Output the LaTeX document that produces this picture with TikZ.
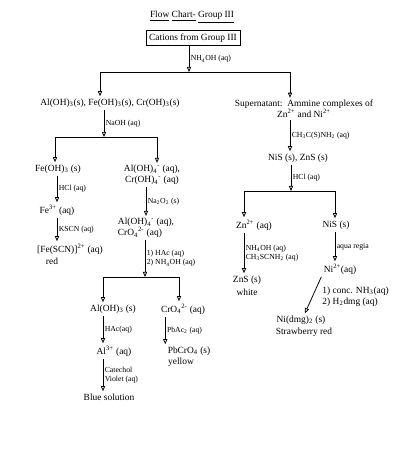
\documentclass[tikz,border=0pt]{standalone}
\usepackage{fontspec}
\setmainfont{Liberation Serif}
\usepackage{tikz}
\usetikzlibrary{arrows.meta,positioning}
\newcommand{\mainsz}{\fontsize{6.7}{7.6}\selectfont}
\newcommand{\lblsz}{\fontsize{5.5}{6.3}\selectfont}
\newcommand{\ksub}[1]{\textsubscript{#1}}
\newcommand{\ksup}[1]{\textsuperscript{#1}}
\begin{document}
\begin{tikzpicture}[x=0.025cm,y=-0.025cm,line width=0.55pt,
    every node/.style={font=\mainsz,inner sep=1.5pt},
    lbl/.style={font=\lblsz,inner sep=1pt,align=left},
    arr/.style={-{Triangle[open,length=3.6pt,width=3pt]}}]
  \useasboundingbox (0,0) rectangle (400,449);
  % top
  \node (title) at (192,17) {\underline{Flow} \underline{Chart-} \underline{Group III}};
  \node[draw,inner sep=2.2pt,line width=0.5pt] (cat) at (193,38) {Cations from Group III};
  \node (hyd) at (110,103) {Al(OH)\ksub{3}(s), Fe(OH)\ksub{3}(s), Cr(OH)\ksub{3}(s)};
  \node[align=center] (sup) at (304,109) {Supernatant:\ \ Ammine complexes of\\Zn\ksup{2+} and Ni\ksup{2+}};
  \coordinate (s1) at (189,72);
  \coordinate (s1l) at (100,72);
  \coordinate (s1r) at (290,72);
  \draw[arr] (cat.south -| s1) -- (s1) node[lbl,midway,right] {NH\ksub{4}OH (aq)};
  \draw (s1l) -- (s1r);
  \draw[arr] (s1l) -- (s1l |- hyd.north);
  \draw[arr] (s1r) -- (s1r |- sup.north);
  % hydroxides
  \node (feoh) at (58,169) {Fe(OH)\ksub{3} (s)};
  \node[align=center] (alcr) at (152,175) {Al(OH)\ksub{4}\ksup{-} (aq),\\Cr(OH)\ksub{4}\ksup{-} (aq)};
  \coordinate (s2) at (104,137);
  \coordinate (s2l) at (55,137);
  \coordinate (s2r) at (157,137);
  \draw[arr] (hyd.south -| s2) -- (s2) node[lbl,midway,right] {NaOH (aq)};
  \draw (s2l) -- (s2r);
  \draw[arr] (s2l) -- (s2l |- feoh.north);
  \draw[arr] (s2r) -- (s2r |- alcr.north);
  % iron
  \node (fe3) at (57,210) {Fe\ksup{3+} (aq)};
  \node (fescn) at (70,249) {[Fe(SCN)]\ksup{2+} (aq)};
  \node (red) at (52,261) {red};
  \draw[arr] (feoh.south -| fe3) -- (fe3.north) node[lbl,midway,right] {HCl (aq)};
  \draw[arr] (fe3.south) -- (fe3.south |- fescn.north) node[lbl,midway,right] {KSCN (aq)};
  % aluminium and chromium
  \node[align=left] (alcro) at (146,228) {Al(OH)\ksub{4}\ksup{-} (aq),\\CrO\ksub{4}\ksup{2-} (aq)};
  \draw[arr] (alcr.south -| alcro) -- (alcro.north) node[lbl,midway,right] {Na\ksub{2}O\ksub{2} (s)};
  \coordinate (s3) at (145,277);
  \coordinate (s3l) at (103,277);
  \coordinate (s3r) at (179,277);
  \draw[arr] (alcro.south -| s3) -- (s3) node[lbl,midway,right] {1) HAc (aq)\\2) NH\ksub{4}OH (aq)};
  \draw (s3l) -- (s3r);
  \node (aloh) at (113,309) {Al(OH)\ksub{3} (s)};
  \node (cro) at (183,309) {CrO\ksub{4}\ksup{2-} (aq)};
  \draw[arr] (s3l) -- (s3l |- aloh.north);
  \draw[arr] (s3r) -- (s3r |- cro.north);
  \node (al3) at (114,351) {Al\ksup{3+} (aq)};
  \node (pbcro) at (189,351) {PbCrO\ksub{4} (s)};
  \node (yellow) at (181,362) {yellow};
  \node (blue) at (109,397) {Blue solution};
  \draw[arr] (aloh.south -| s3l) -- (al3.north -| s3l) node[lbl,midway,right] {HAc(aq)};
  \draw[arr] (cro.south -| pbcro.west) -- (pbcro.north west) node[lbl,midway,right] {PbAc\ksub{2} (aq)};
  \draw[arr] (al3.south -| s3l) -- (blue.north -| s3l) node[lbl,midway,right] {Catechol\\Violet (aq)};
  % zinc and nickel
  \node (nizn) at (298,158) {NiS (s), ZnS (s)};
  \draw[arr] (sup.south -| s1r) -- (nizn.north -| s1r) node[lbl,midway,right] {CH\ksub{3}C(S)NH\ksub{2} (aq)};
  \coordinate (s4) at (291,191);
  \coordinate (s4l) at (244,191);
  \coordinate (s4r) at (335,191);
  \draw[arr] (nizn.south -| s4) -- (s4) node[lbl,midway,right] {HCl (aq)};
  \draw (s4l) -- (s4r);
  \node (zn) at (254,225) {Zn\ksup{2+} (aq)};
  \node (nis) at (336,225) {NiS (s)};
  \draw[arr] (s4l) -- (s4l |- zn.north);
  \draw[arr] (s4r) -- (s4r |- nis.north);
  \node (zns) at (247,280) {ZnS (s)};
  \node (white) at (247,292) {white};
  \node (ni2) at (340,269) {Ni\ksup{2+}(aq)};
  \draw[arr] (zn.south -| s4l) -- (zns.north -| s4l) node[lbl,midway,right] {NH\ksub{4}OH (aq)\\CH\ksub{3}SCNH\ksub{2} (aq)};
  \draw[arr] (nis.south -| s4r) -- (ni2.north -| s4r) node[lbl,midway,right] {aqua regia};
  \node (nidmg) at (301,320) {Ni(dmg)\ksub{2} (s)};
  \node (straw) at (304,332) {Strawberry red};
  \node[anchor=west,align=left] (dmglbl) at (320,296.5) {1) conc. NH\ksub{3}(aq)\\2) H\ksub{2}dmg (aq)};
  \draw[arr] (ni2.south west) -- (nidmg.60);
\end{tikzpicture}
\end{document}
